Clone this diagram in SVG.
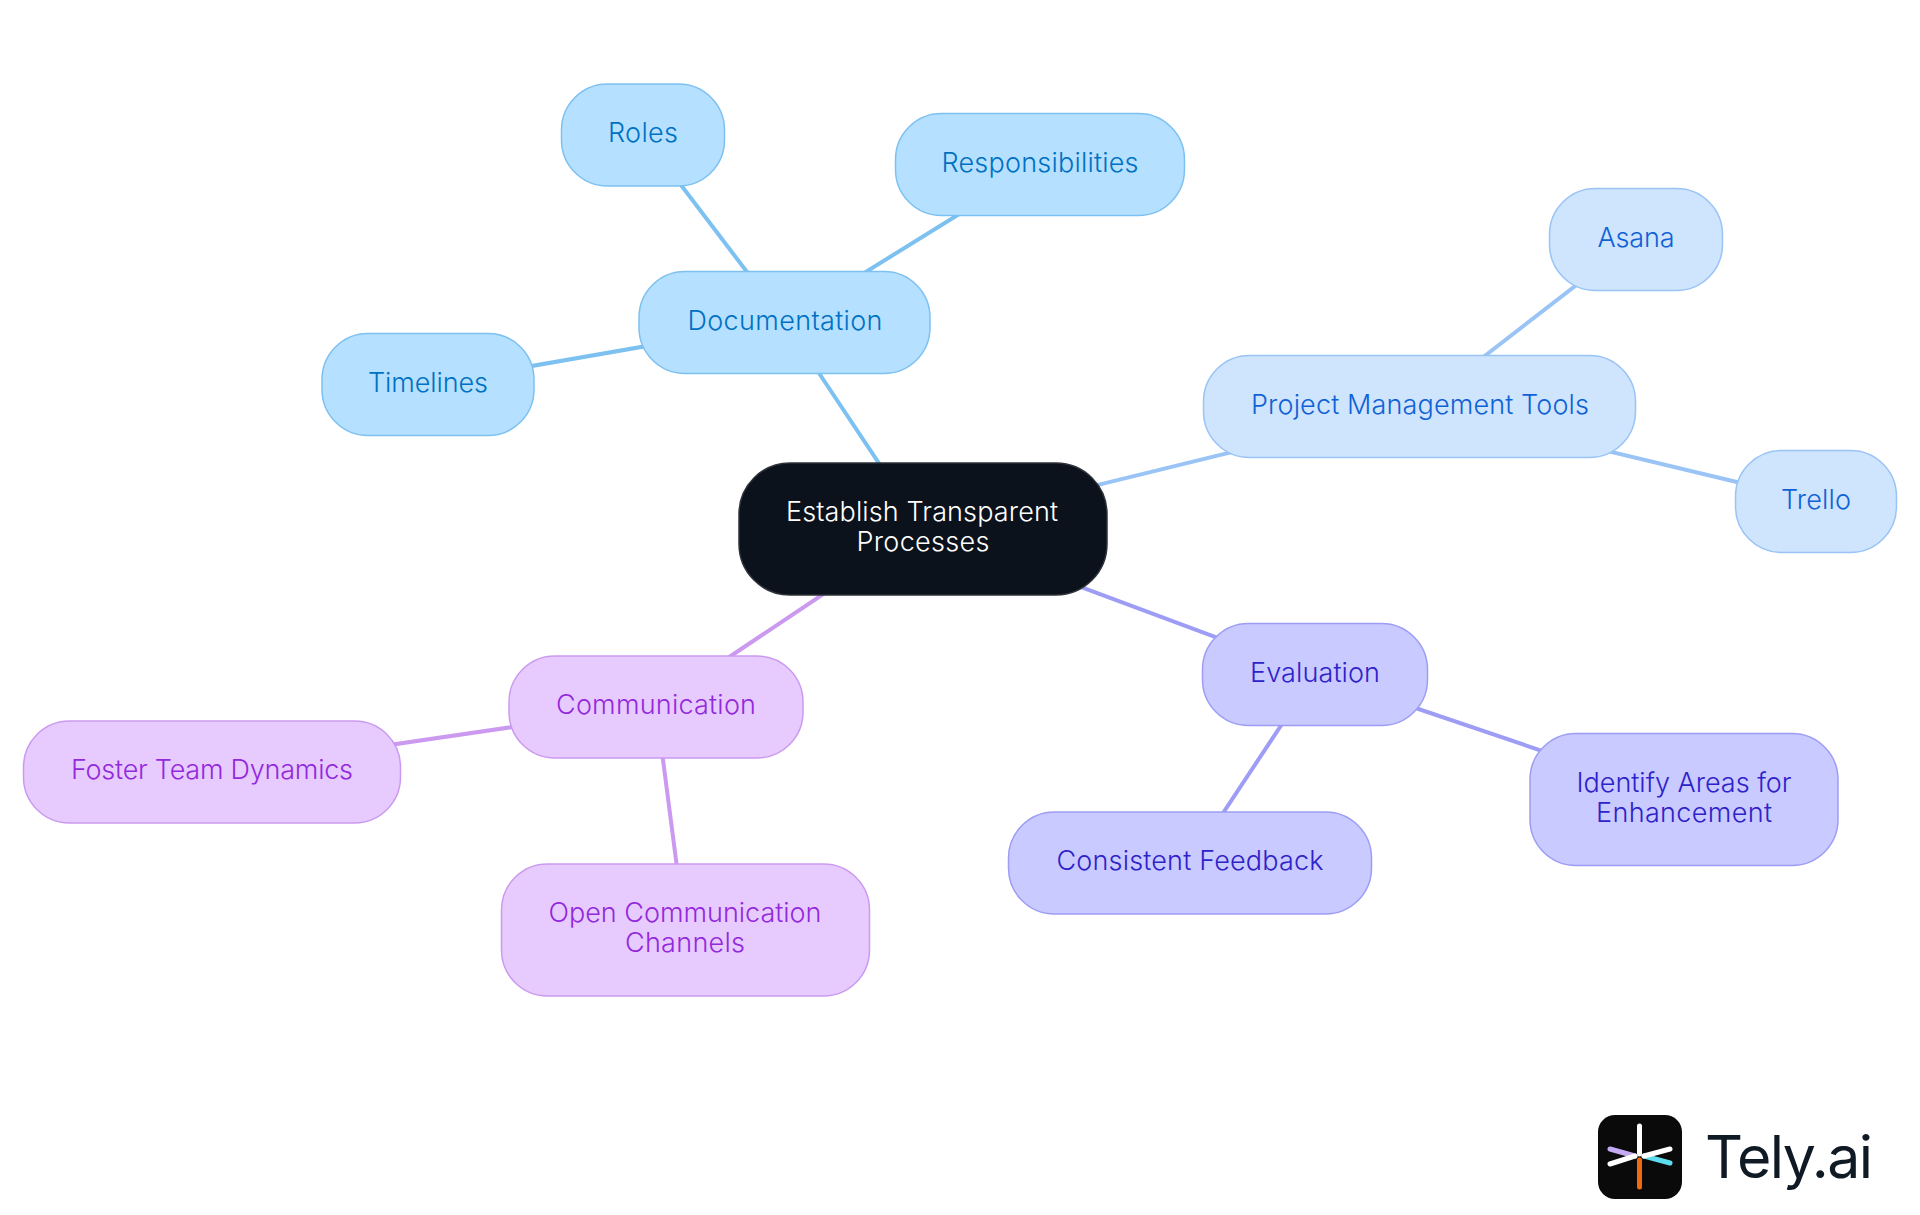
<svg xmlns="http://www.w3.org/2000/svg" width="1920" height="1215" viewBox="0 0 1920 1215">
<style>
text{font-family:"Inter","Noto Sans","Liberation Sans",sans-serif;font-size:27px;text-anchor:middle;font-weight:350}
.n rect{stroke-width:1.5}
.c line{stroke-width:4;fill:none}
.b1 rect{fill:#b5e0ff;stroke:#7dc1f1}.b1 text{fill:#0071c2}
.b2 rect{fill:#cfe4fd;stroke:#99c4f5}.b2 text{fill:#0f62d6}
.b3 rect{fill:#c9caff;stroke:#9d9df5}.b3 text{fill:#2e22c9}
.b4 rect{fill:#e7cbff;stroke:#cb9af0}.b4 text{fill:#9329dc}
</style>
<rect width="1920" height="1215" fill="#fff"/>
<g id="connectors" class="c">
<line x1="922" y1="528" x2="785" y2="322" stroke="#7dc1f1"/>
<line x1="785" y1="322" x2="643" y2="135" stroke="#7dc1f1"/>
<line x1="785" y1="322" x2="1040" y2="164" stroke="#7dc1f1"/>
<line x1="785" y1="322" x2="428" y2="384" stroke="#7dc1f1"/>
<line x1="922" y1="528" x2="1420" y2="406" stroke="#99c4f5"/>
<line x1="1420" y1="406" x2="1636" y2="239" stroke="#99c4f5"/>
<line x1="1420" y1="406" x2="1816" y2="501" stroke="#99c4f5"/>
<line x1="922" y1="528" x2="1315" y2="674" stroke="#9d9df5"/>
<line x1="1315" y1="674" x2="1684" y2="799" stroke="#9d9df5"/>
<line x1="1315" y1="674" x2="1190" y2="863" stroke="#9d9df5"/>
<line x1="922" y1="528" x2="656" y2="706" stroke="#cb9af0"/>
<line x1="656" y1="706" x2="212" y2="771" stroke="#cb9af0"/>
<line x1="656" y1="706" x2="685" y2="929" stroke="#cb9af0"/>
</g>
<g id="root" class="n"><rect x="739" y="463" width="368" height="132" rx="51" fill="#0b121b" stroke="#2e3238" stroke-width="1.5"/><text x="922" y="521" fill="#fff" textLength="272">Establish Transparent</text><text x="923" y="551" fill="#fff" textLength="133">Processes</text></g>
<g id="documentation" class="n b1"><rect x="639" y="271.500" width="291" height="102" rx="46"/><text x="785" y="330" textLength="195">Documentation</text></g>
<g id="roles" class="n b1"><rect x="561.500" y="84" width="163" height="102" rx="46"/><text x="643" y="142" textLength="70">Roles</text></g>
<g id="responsibilities" class="n b1"><rect x="895.500" y="113.500" width="289" height="102" rx="46"/><text x="1040" y="172" textLength="197">Responsibilities</text></g>
<g id="timelines" class="n b1"><rect x="322" y="333.500" width="212" height="102" rx="46"/><text x="428" y="392" textLength="120">Timelines</text></g>
<g id="pm-tools" class="n b2"><rect x="1203.500" y="355.500" width="432" height="102" rx="46"/><text x="1420" y="414" textLength="338">Project Management Tools</text></g>
<g id="asana" class="n b2"><rect x="1549.500" y="188.500" width="173" height="102" rx="46"/><text x="1636" y="247" textLength="77">Asana</text></g>
<g id="trello" class="n b2"><rect x="1735.500" y="450.500" width="161" height="102" rx="46"/><text x="1816" y="509" textLength="70">Trello</text></g>
<g id="evaluation" class="n b3"><rect x="1202.500" y="623.500" width="225" height="102" rx="46"/><text x="1315" y="682" textLength="130">Evaluation</text></g>
<g id="identify" class="n b3"><rect x="1530" y="733.500" width="308" height="132" rx="46"/><text x="1684" y="792" textLength="215">Identify Areas for</text><text x="1684" y="822" textLength="176">Enhancement</text></g>
<g id="feedback" class="n b3"><rect x="1008.500" y="812" width="363" height="102" rx="46"/><text x="1190" y="870" textLength="267">Consistent Feedback</text></g>
<g id="communication" class="n b4"><rect x="509" y="656" width="294" height="102" rx="46"/><text x="656" y="714" textLength="200">Communication</text></g>
<g id="foster" class="n b4"><rect x="23.500" y="721" width="377" height="102" rx="46"/><text x="212" y="779" textLength="282">Foster Team Dynamics</text></g>
<g id="open" class="n b4"><rect x="501.500" y="864" width="368" height="132" rx="46"/><text x="685" y="922" textLength="273">Open Communication</text><text x="685" y="952" textLength="120">Channels</text></g>
<g id="logo">
<rect x="1598" y="1115" width="84" height="84" rx="17" fill="#0a0a0a"/>
<g stroke-width="5" stroke-linecap="round" fill="none">
<path d="M1639.500 1126V1154" stroke="#fff"/>
<path d="M1639.500 1160V1187" stroke="#f26a10"/>
<path d="M1610 1149L1635 1156" stroke="#c3aaf2"/>
<path d="M1644 1156L1670 1163" stroke="#5cdcec"/>
<path d="M1610 1164L1635 1156" stroke="#fff"/>
<path d="M1644 1156L1670 1149" stroke="#fff"/>
</g>
<text x="1705" y="1178" textLength="168" style="font-size:59px;text-anchor:start;fill:#101a24;font-weight:400">Tely.ai</text>
</g>
</svg>
